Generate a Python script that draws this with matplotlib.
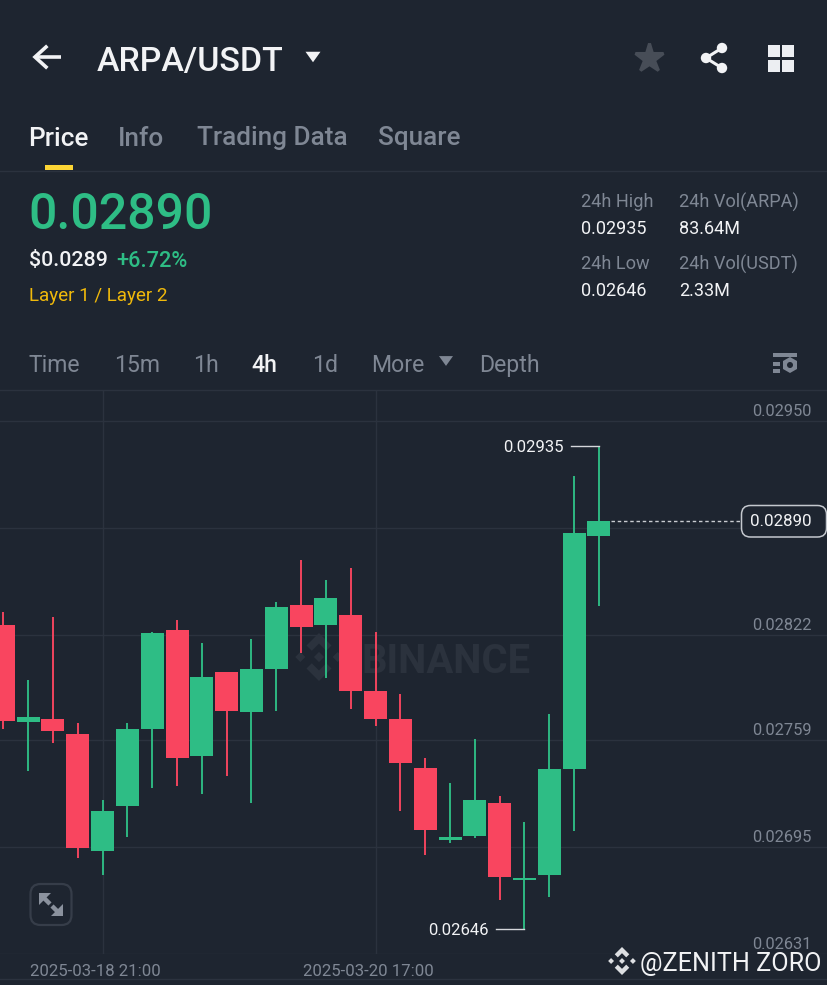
import matplotlib
matplotlib.use("Agg")
import matplotlib.pyplot as plt
from matplotlib.patches import Polygon, FancyBboxPatch, Rectangle, Circle

plt.rcParams['font.family'] = ['Roboto', 'DejaVu Sans']

# ---- data ----
opens = [0.028279, 0.027697, 0.027715, 0.027625, 0.026925, 0.027194, 0.027655, 0.028247, 0.027495, 0.027996,
         0.027757, 0.028018, 0.028399, 0.028279, 0.028339, 0.027886, 0.027716, 0.027425, 0.026992, 0.027014,
         0.027212, 0.026753, 0.026783, 0.027415, 0.028812]
closes = [0.027706, 0.027727, 0.027646, 0.026943, 0.027164, 0.027655, 0.028229, 0.027485, 0.027966, 0.027766,
          0.028016, 0.028389, 0.028269, 0.028439, 0.027886, 0.027716, 0.027455, 0.027052, 0.027012, 0.027233,
          0.026771, 0.026763, 0.027415, 0.028830, 0.028900]
highs = [0.028359, 0.027950, 0.028329, 0.027694, 0.027232, 0.027694, 0.028239, 0.028309, 0.028170, 0.027996,
         0.028197, 0.028419, 0.028668, 0.028548, 0.028618, 0.028237, 0.027866, 0.027485, 0.027332, 0.027595,
         0.027254, 0.027102, 0.027746, 0.029173, 0.029350]
lows = [0.027655, 0.027405, 0.027575, 0.026883, 0.026783, 0.027012, 0.027305, 0.027315, 0.027266, 0.027375,
        0.027216, 0.027766, 0.028110, 0.027960, 0.027778, 0.027676, 0.027166, 0.026903, 0.026973, 0.027004,
        0.026631, 0.026460, 0.026651, 0.027044, 0.028393]
is_up = [False, True, False, False, True, True, True, False, True, False, True, True, False, True, False, False,
         False, False, True, True, False, True, True, True, True]
grid_prices = [0.02950, 0.02886, 0.02822, 0.02759, 0.02695, 0.02631]
grid_labels = ["0.02950", "", "0.02822", "0.02759", "0.02695", "0.02631"]
date_positions = [4, 15]
date_labels = ["2025-03-18 21:00", "2025-03-20 17:00"]
high_idx, high_val, high_label = 24, 0.02935, "0.02935"
low_idx, low_val, low_label = 21, 0.02646, "0.02646"
last_idx, last_price, last_label = 24, 0.02890, "0.02890"
tabs = [("Price", 29, True), ("Info", 118, False), ("Trading Data", 197, False), ("Square", 378, False)]
intervals = [("Time", 30, False), ("15m", 115, False), ("1h", 194, False), ("4h", 252, True), ("1d", 313, False),
             ("More", 372, False), ("Depth", 480, False)]
stats = [("24h High", "0.02935", 581, 200), ("24h Vol(ARPA)", "83.64M", 679, 200),
         ("24h Low", "0.02646", 581, 262), ("24h Vol(USDT)", "2.33M", 679, 262)]

# ---- style ----
BG = "#1E2530"
GRID = "#2B323E"
GREEN = "#2EBD85"
RED = "#F9455F"
GREY = "#7F8794"
WHITE = "#F2F3F5"
YEL = "#F0B90B"

W, H = 828, 985
fig = plt.figure(figsize=(W / 100, H / 100), dpi=100, facecolor=BG)


def pixel_axes(z):
    a = fig.add_axes([0, 0, 1, 1], zorder=z)
    a.set_xlim(0, W)
    a.set_ylim(H, 0)
    a.axis("off")
    return a


ui = pixel_axes(0)
over = pixel_axes(3)


def logo(a, cx, cy, r, color):
    chevron = [(0, -1), (.52, -.48), (.3, -.26), (0, -.56), (-.3, -.26), (-.52, -.48)]
    for sign in (1, -1):
        a.add_patch(Polygon([(cx + r * x, cy + sign * r * y) for x, y in chevron], fc=color, ec="none"))
    for dx in (-.78, 0, .78):
        d = .21
        a.add_patch(Polygon([(cx + r * dx, cy - r * d), (cx + r * (dx + d), cy), (cx + r * dx, cy + r * d),
                             (cx + r * (dx - d), cy)], fc=color, ec="none"))


def T(a, x, y, s, size, color=WHITE, weight="normal", ha="left"):
    a.text(x, y, s, fontsize=size, color=color, fontweight=weight, ha=ha, va="center_baseline")


def tri(a, cx, cy, r, color):
    a.add_patch(Polygon([(cx - r, cy - r * .7), (cx + r, cy - r * .7), (cx, cy + r * .7)], fc=color, ec="none"))


# header
ui.plot([35, 61], [57, 57], color=WHITE, lw=2.6, solid_capstyle="butt")
ui.plot([46, 35, 46], [47, 57, 67], color=WHITE, lw=2.6, solid_joinstyle="miter")
T(ui, 97, 58.5, "ARPA/USDT", 24.4, weight="medium")
tri(ui, 313, 57, 7.5, WHITE)
# star
ui.plot([649], [58], marker="*", ms=21, color="#474D57", mec="#474D57", mew=2.2)
# share
for px, py in ((722, 48), (706, 58), (722, 68)):
    ui.add_patch(Circle((px, py), 5.2, fc=WHITE, ec="none"))
ui.plot([722, 706, 722], [48, 58, 68], color=WHITE, lw=2.2)
# grid icon
for gx in (768, 782):
    for gy in (45, 60):
        ui.add_patch(Rectangle((gx, gy), 12, 12, fc="#ECEEF2", ec="none"))

# tabs
for label, x, active in tabs:
    T(ui, x - (1 if active else 0), 136, label, 18.85, color=WHITE if active else GREY, weight="medium")
ui.add_patch(Rectangle((45, 165), 28, 5, fc="#FCD535", ec="none"))
ui.plot([0, W], [170.5, 170.5], color=GRID, lw=1)

# price block
T(ui, 28, 210, "0.02890", 36, color=GREEN, weight="medium")
T(ui, 29, 259, "$0.0289", 15.4, weight="medium")
T(ui, 116, 259, "+6.72%", 15.7, color=GREEN, weight="medium")
T(ui, 29, 294, "Layer 1 / Layer 2", 13.6, color=YEL)
for head, val, x, y in stats:
    T(ui, x, y, head, 13.1, color=GREY)
    T(ui, x, y + 27, val, 13.0)

# interval row
for label, x, active in intervals:
    T(ui, x - 1, 363, label, 16.6, color=WHITE if active else GREY, weight="medium" if active else "normal")
tri(ui, 446, 361, 7, GREY)
ui.add_patch(Rectangle((773, 353), 24, 3.5, fc=GREY, ec="none"))
ui.add_patch(Rectangle((773, 362), 7, 3.5, fc=GREY, ec="none"))
ui.add_patch(Rectangle((773, 369), 7, 3.5, fc=GREY, ec="none"))
ui.add_patch(Polygon([(790, 357), (797, 361), (797, 369), (790, 373), (783, 369), (783, 361)], fc=GREY, ec="none"))
ui.add_patch(Circle((790, 365), 3, fc=BG, ec="none"))
ui.plot([0, W], [390, 390], color=GRID, lw=1)
ui.plot([0, W], [979, 979], color=GRID, lw=1)

# watermark
logo(ui, 319, 657, 24, "#2B323D")
T(ui, 362, 658, "BINANCE", 28.8, color="#2B323D", weight="bold")

# expand icon
ui.add_patch(FancyBboxPatch((30.5, 884), 41, 41, boxstyle="round,pad=0,rounding_size=10", fc=BG, ec="#363D49", lw=1.6))
ui.plot([44, 50], [898, 904], color="#8B929E", lw=3.2, solid_capstyle="butt")
ui.plot([52, 58], [906, 912], color="#8B929E", lw=3.2, solid_capstyle="butt")
ui.add_patch(Polygon([(39, 893), (51, 893), (39, 905)], fc="#8B929E", ec="none"))
ui.add_patch(Polygon([(63, 916), (51, 916), (63, 904)], fc="#8B929E", ec="none"))

# ---- chart ----
ax = fig.add_axes([0, 1 - 954 / H, 1, (954 - 390) / H], zorder=1)
ax.patch.set_alpha(0)
ax.set_xlim(-0.133, 33.23)
ax.set_ylim(0.02631, 0.029685)
for s in ax.spines.values():
    s.set_visible(False)
ax.set_yticks(grid_prices)
ax.set_yticklabels([])
ax.set_xticks(date_positions)
ax.set_xticklabels([])
ax.tick_params(length=0)
ax.grid(True, color=GRID, lw=1)
ax.set_axisbelow(True)
for p, lab in zip(grid_prices, grid_labels):
    ax.annotate(lab, xy=(1, p), xycoords=("axes fraction", "data"), xytext=(-76, 2), textcoords="offset pixels",
                ha="left", va="bottom", fontsize=11.8, color=GREY, annotation_clip=False)
for x, lab in zip(date_positions, date_labels):
    ax.annotate(lab, xy=(x, 0), xycoords=("data", "axes fraction"), xytext=(-7, -16), textcoords="offset pixels",
                ha="center", va="center_baseline", fontsize=12.1, color=GREY, annotation_clip=False)

for i, (o, c, hi, lo, up) in enumerate(zip(opens, closes, highs, lows, is_up)):
    col = GREEN if up else RED
    ax.vlines(i, lo, hi, color=col, lw=1.35, zorder=3)
    ax.bar(i, abs(c - o), bottom=min(o, c), width=0.925, color=col, lw=0, zorder=4)

# high / low callouts
ax.plot([high_idx - 1.13, high_idx], [high_val, high_val], color="#D5D7DB", lw=1, zorder=3)
ax.annotate(high_label, xy=(high_idx, high_val), xytext=(-35, 0), textcoords="offset pixels", ha="right",
            va="center_baseline", fontsize=12, color=WHITE)
ax.plot([low_idx - 1.13, low_idx], [low_val, low_val], color="#D5D7DB", lw=1, zorder=3)
ax.annotate(low_label, xy=(low_idx, low_val), xytext=(-36, 0), textcoords="offset pixels", ha="right",
            va="center_baseline", fontsize=12, color=WHITE)
# last price
ax.plot([last_idx + 0.5, 29.73], [last_price, last_price], color="#C9CCD1", lw=1, ls=(0, (2.5, 2)), zorder=2)
over.add_patch(FancyBboxPatch((741.5, 505.5), 85, 31.5, boxstyle="round,pad=0,rounding_size=9", fc=BG,
                              ec="#C4C8CE", lw=1.1))
over.annotate(last_label, xy=(1, last_price), xycoords=ax.get_yaxis_transform(), xytext=(-47, 0),
              textcoords="offset pixels", ha="center", va="center", fontsize=12.2, color=WHITE,
              annotation_clip=False)

# overlay watermark
logo(over, 622, 961, 14, "#DDDFE2")
T(over, 640, 962, "@ZENITH ZORO", 18.1, color=WHITE)

fig.savefig("out.png", dpi=100, facecolor=BG)
